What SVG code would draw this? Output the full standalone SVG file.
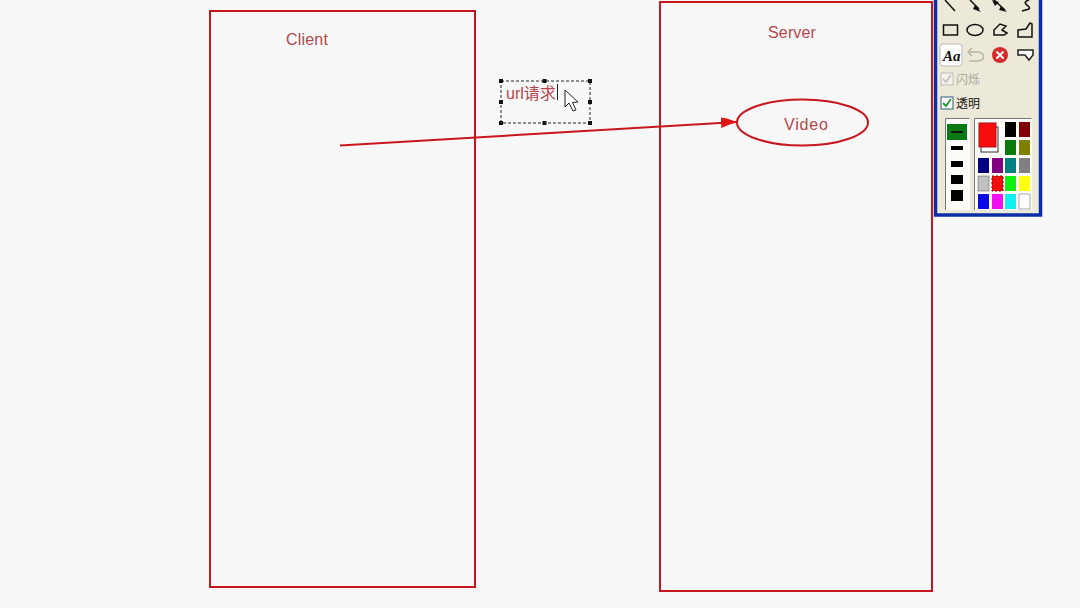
<svg xmlns="http://www.w3.org/2000/svg" width="1080" height="608" viewBox="0 0 1080 608">
<defs>
<marker id="arrow" markerUnits="userSpaceOnUse" markerWidth="18" markerHeight="14" refX="16" refY="7" orient="auto"><path d="M0 1.500L6 3L16 7L6 10L0 12Z" fill="#e01414"/></marker>
</defs>
<style>
.box{fill:none;stroke:#c8161f;stroke-width:2}
.lbl{font-family:"Liberation Sans","Noto Sans CJK SC",sans-serif;font-size:16px;fill:#b5474d;letter-spacing:.1px}
.ui{font-family:"Noto Sans CJK SC",sans-serif;font-size:12px}
.ic{fill:none;stroke:#111;stroke-width:1.500}
.h{fill:#111}
</style>
<rect width="1080" height="608" fill="#f8f8f8"/>
<g id="client"><rect class="box" x="210" y="11" width="265" height="576"/><text class="lbl" x="286" y="45" textLength="42">Client</text></g>
<g id="server"><rect class="box" x="660" y="2" width="272" height="589"/><text class="lbl" x="768" y="38" textLength="48">Server</text></g>
<g id="video"><ellipse cx="802.500" cy="122.500" rx="65.500" ry="23" fill="none" stroke="#c8161f" stroke-width="2"/><text class="lbl" x="784" y="130" textLength="44">Video</text></g>
<g id="connectors"><path d="M340 145.500L737 122" fill="none" stroke="#c8161f" stroke-width="2" marker-end="url(#arrow)"/></g>
<g id="url-label">
<rect x="501" y="81" width="89" height="42" fill="none" stroke="#222" stroke-width="1" stroke-dasharray="3 2"/>
<g class="h"><rect x="499" y="79" width="4" height="4"/><rect x="542.500" y="79" width="4" height="4"/><rect x="588" y="79" width="4" height="4"/><rect x="499" y="100" width="4" height="4"/><rect x="588" y="100" width="4" height="4"/><rect x="499" y="121" width="4" height="4"/><rect x="542.500" y="121" width="4" height="4"/><rect x="588" y="121" width="4" height="4"/></g>
<text class="lbl" x="506" y="99" style="letter-spacing:0">url请求</text>
<path d="M557.500 84V100" stroke="#222" stroke-width="1"/>
<path d="M565 90V107L569 103L573 111L576 110L572.500 102.500L578 102Z" fill="#fff" stroke="#222" stroke-width="1"/>
</g>
<g id="toolbar">
<rect x="935.500" y="-4" width="105" height="219" fill="#ece9d8" stroke="#0a2ea8" stroke-width="3.500"/>
<path d="M945 0L955 11" class="ic" stroke-width="1"/>
<path d="M970 0L979 9" class="ic"/><path d="M975 5L981 12L973 9Z" class="h"/>
<path d="M994 0L1005 10" class="ic"/><path d="M992 0L999 2L995 6Z M1001 6L1007 12L999 10Z" class="h"/>
<path d="M1029 0C1019 3 1032 6 1029 9L1022 11" class="ic" stroke-width="1"/>
<rect x="943.500" y="25" width="14" height="10" class="ic"/>
<ellipse cx="975" cy="30" rx="8" ry="5.500" class="ic"/>
<path d="M994 35L994 30L1000 24L1006 26L1002 30L1007 33L1004 35Z" class="ic"/>
<path d="M1018 37V30L1026 29L1030 23L1032 24V37Z" class="ic"/>
<rect x="940" y="44" width="22" height="22" rx="3" fill="#fff" stroke="#bbb"/>
<text x="943" y="61" style="font-family:'Liberation Serif',serif;font-style:italic;font-weight:bold;font-size:15px" fill="#111">Aa</text>
<path d="M968 52H978A5 4 0 1 1 978 61H969M972 48L968 52L972 56" fill="none" stroke="#b5b5a8" stroke-width="1.500"/>
<circle cx="1000" cy="55" r="8" fill="#d52b2b"/><path d="M996.500 51.500L1003.500 58.500M1003.500 51.500L996.500 58.500" stroke="#fff" stroke-width="2"/>
<path d="M1018 50H1033V55L1029 60L1025 55H1018Z" fill="#fff" stroke="#222" stroke-width="1.500"/>
<rect x="941" y="73" width="12" height="12" fill="#f3f1e8" stroke="#bbb"/><path d="M943 79L946 82L951 75" fill="none" stroke="#bbb" stroke-width="1.500"/>
<text class="ui" x="956" y="84" fill="#a9a79a">闪烁</text>
<rect x="941" y="97" width="12" height="12" fill="#fff" stroke="#2b5a80"/><path d="M943 103L946 106L951 99" fill="none" stroke="#1f9a35" stroke-width="1.800"/>
<text class="ui" x="956" y="108" fill="#111">透明</text>
<rect x="945" y="118" width="25" height="92" fill="#fbfbf8"/><path d="M945.500 210V118.500H969.500" fill="none" stroke="#777"/>
<rect x="947" y="124" width="20" height="16" fill="#0a7a14"/><rect x="951" y="131" width="12" height="2" fill="#111"/>
<rect x="951" y="146" width="12" height="4" fill="#000"/><rect x="951" y="161" width="12" height="6" fill="#000"/><rect x="951" y="175" width="12" height="9" fill="#000"/><rect x="951" y="190" width="12" height="11" fill="#000"/>
<rect x="974" y="118" width="58" height="92" fill="#fbfbf8"/><path d="M974.500 210V118.500H1031.500" fill="none" stroke="#777"/>
<rect x="981" y="127" width="17" height="25" fill="#fff" stroke="#333"/><rect x="979" y="123" width="17" height="24" fill="#f80c0c" stroke="#a11"/>
<rect x="1005" y="122" width="11" height="15" fill="#000"/><rect x="1019" y="122" width="11" height="15" fill="#800000"/>
<rect x="1005" y="140" width="11" height="15" fill="#0a7a0a"/><rect x="1019" y="140" width="11" height="15" fill="#808000"/>
<rect x="978" y="158" width="11" height="15" fill="#000080"/><rect x="992" y="158" width="11" height="15" fill="#800080"/><rect x="1005" y="158" width="11" height="15" fill="#008080"/><rect x="1019" y="158" width="11" height="15" fill="#808080"/>
<rect x="978" y="176" width="11" height="15" fill="#c0c0c0" stroke="#555" stroke-width=".5"/><rect x="992" y="176" width="11" height="15" fill="#f01010" stroke="#700" stroke-dasharray="2 2"/><rect x="1005" y="176" width="11" height="15" fill="#10f010"/><rect x="1019" y="176" width="11" height="15" fill="#ffff10"/>
<rect x="978" y="194" width="11" height="15" fill="#0a0ae8"/><rect x="992" y="194" width="11" height="15" fill="#f010f0"/><rect x="1005" y="194" width="11" height="15" fill="#10f0f0"/><rect x="1019" y="194" width="11" height="15" fill="#fff" stroke="#555" stroke-width=".5"/>
</g>
</svg>
